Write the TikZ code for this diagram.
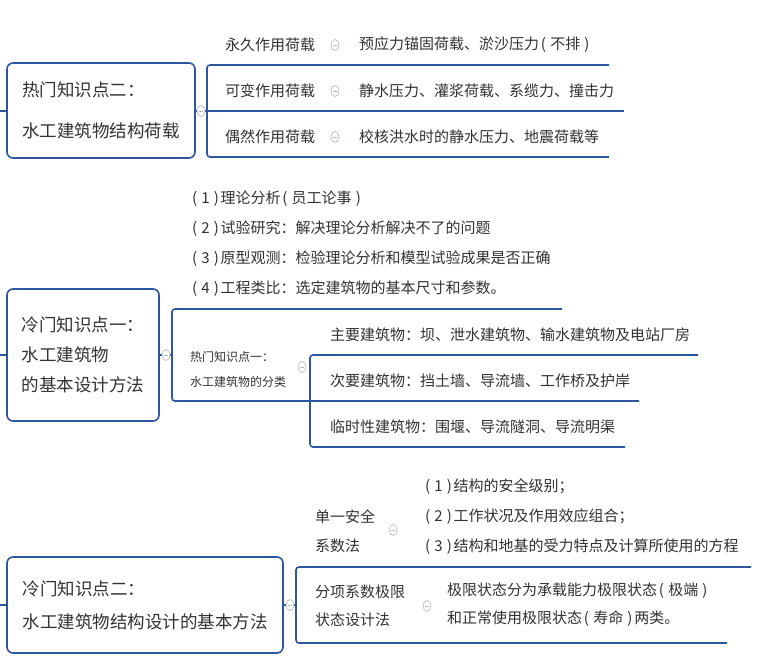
\documentclass[tikz,border=0pt]{standalone}
\usepackage{fontspec}
\setmainfont{Noto Sans CJK SC}
\usetikzlibrary{shapes.geometric}
\definecolor{blu}{RGB}{46,86,158}
\definecolor{txt}{RGB}{50,50,50}
\definecolor{tg}{RGB}{180,184,198}
\newcommand\lpar{\hspace{0.12em}(\hspace{0.28em}}
\newcommand\rpar{\hspace{0.28em})\hspace{0.12em}}
\begin{document}
\begin{tikzpicture}[x=1pt,y=-1pt,
  lbl/.style={anchor=west, inner sep=0pt, text=txt, align=left, font=\fontsize{15}{30}\selectfont},
  small/.style={anchor=west, inner sep=0pt, text=txt, align=left, font=\fontsize{12}{25}\selectfont},
  rootbox/.style={draw=blu, line width=1.6pt, rounded corners=6pt, fill=white, align=left, text=txt, inner sep=0pt},
  conn/.style={draw=blu, line width=1.6pt},
  brk/.style={draw=blu, line width=1.6pt, rounded corners=3pt},
  tog/.style={ellipse, draw=tg, fill=white, minimum width=8pt, minimum height=11pt, inner sep=0pt, line width=0.6pt,
    path picture={\draw[tg, line width=0.6pt] ([xshift=-2pt]path picture bounding box.center) -- ([xshift=2pt]path picture bounding box.center);}}
]
\useasboundingbox[fill=white] (0,0) rectangle (760,657);

% ---------- Root 1 ----------
\node[rootbox, minimum width=188pt, minimum height=95pt, font=\fontsize{17.5}{41}\selectfont] (R1) at (101,110.5) {热门知识点二：\\水工建筑物结构荷载};
\coordinate (L1) at (0,111);
\coordinate (B1) at (207,111);
\coordinate (U1a) at (207,65);  \coordinate (U1ae) at (609,65);
\coordinate (U1c) at (207,157); \coordinate (U1ce) at (609,157);
\coordinate (U1be) at (624,111);
\draw[conn] (L1) -- (L1 -| R1.west);
\draw[conn] (R1.east |- B1) -- (B1);
\draw[brk] (U1ae) -- (U1a) -- (U1c) -- (U1ce);
\draw[conn] (B1) -- (U1be);
\node[tog] (T1) at (201,111) {};

\node[lbl] (a1) at (225,45) {永久作用荷载};
\node[tog] (a1t) at (335,45) {};
\node[lbl] (a1g) at (359,45) {预应力锚固荷载、淤沙压力\lpar 不排\rpar};
\node[lbl] (a2) at (225,91) {可变作用荷载};
\node[tog] (a2t) at (335,91) {};
\node[lbl] (a2g) at (359,91) {静水压力、灌浆荷载、系缆力、撞击力};
\node[lbl] (a3) at (225,137) {偶然作用荷载};
\node[tog] (a3t) at (335,137) {};
\node[lbl] (a3g) at (359,137) {校核洪水时的静水压力、地震荷载等};

% ---------- Root 2 ----------
\node[rootbox, minimum width=152pt, minimum height=132pt, font=\fontsize{17.5}{30}\selectfont] (R2) at (83,355) {冷门知识点一：\\水工建筑物\\的基本设计方法};
\coordinate (L2) at (0,355);
\coordinate (B2) at (172,355);
\coordinate (U2a) at (172,309); \coordinate (U2ae) at (562,309);
\coordinate (U2b) at (172,401); \coordinate (U2be) at (639,401);
\coordinate (G2a) at (310,355); \coordinate (G2ae) at (698,355);
\coordinate (G2c) at (310,447); \coordinate (G2ce) at (625,447);
\draw[conn] (L2) -- (L2 -| R2.west);
\draw[conn] (R2.east |- B2) -- (B2);
\draw[brk] (U2ae) -- (U2a) -- (U2b) -- (U2be);
\draw[brk] (G2ae) -- (G2a) -- (G2c) -- (G2ce);
\node[tog] (T2) at (166,355) {};

\node[lbl] (b1) at (190,199) {\lpar 1\rpar 理论分析\lpar 员工论事\rpar};
\node[lbl] (b2) at (190,229) {\lpar 2\rpar 试验研究：解决理论分析解决不了的问题};
\node[lbl] (b3) at (190,259) {\lpar 3\rpar 原型观测：检验理论分析和模型试验成果是否正确};
\node[lbl] (b4) at (190,289) {\lpar 4\rpar 工程类比：选定建筑物的基本尺寸和参数。};
\node[small] (c1) at (190,369) {热门知识点一：\\水工建筑物的分类};
\node[tog] (c1t) at (302,367) {};
\node[lbl] (c1a) at (330,335) {主要建筑物：坝、泄水建筑物、输水建筑物及电站厂房};
\node[lbl] (c1b) at (330,381) {次要建筑物：挡土墙、导流墙、工作桥及护岸};
\node[lbl] (c1c) at (330,427) {临时性建筑物：围堰、导流隧洞、导流明渠};

% ---------- Root 3 ----------
\node[rootbox, minimum width=276pt, minimum height=96pt, font=\fontsize{17.5}{33}\selectfont] (R3) at (145,605) {冷门知识点二：\\水工建筑物结构设计的基本方法};
\coordinate (L3) at (0,605);
\coordinate (B3) at (296,605);
\coordinate (U3a) at (296,567); \coordinate (U3ae) at (751,567);
\coordinate (U3c) at (296,643); \coordinate (U3ce) at (727,643);
\draw[conn] (L3) -- (L3 -| R3.west);
\draw[conn] (R3.east |- B3) -- (B3);
\draw[brk] (U3ae) -- (U3a) -- (U3c) -- (U3ce);
\node[tog] (T3) at (290,605) {};

\node[lbl, font=\fontsize{15}{29}\selectfont] (d1) at (315,531.5) {单一安全\\系数法};
\node[tog] (d1t) at (393,530) {};
\node[lbl] (d1g) at (423,517) {\lpar 1\rpar 结构的安全级别；\\\lpar 2\rpar 工作状况及作用效应组合；\\\lpar 3\rpar 结构和地基的受力特点及计算所使用的方程};
\node[lbl, font=\fontsize{15}{28}\selectfont] (d2) at (315,606) {分项系数极限\\状态设计法};
\node[tog] (d2t) at (427,606) {};
\node[lbl, font=\fontsize{15}{28}\selectfont] (d2g) at (447,605) {极限状态分为承载能力极限状态\lpar 极端\rpar\\和正常使用极限状态\lpar 寿命\rpar 两类。};
\end{tikzpicture}
\end{document}
